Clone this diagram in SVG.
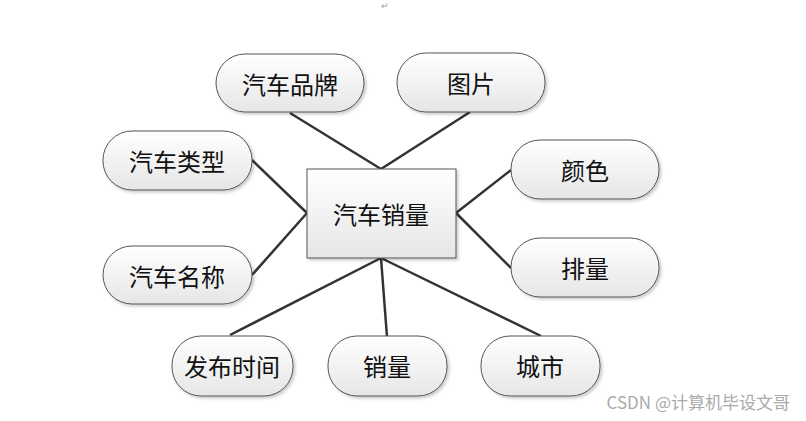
<svg xmlns="http://www.w3.org/2000/svg" width="806" height="421" viewBox="0 0 806 421">
<defs>
<linearGradient id="g" x1="0" y1="0" x2="0" y2="1"><stop offset="0" stop-color="#ffffff"/><stop offset="1" stop-color="#e6e6e6"/></linearGradient>
<filter id="s" x="-10%" y="-10%" width="130%" height="130%"><feDropShadow dx="2" dy="2" stdDeviation="1.5" flood-color="#000" flood-opacity="0.2"/></filter>
</defs>
<style>
.n{fill:url(#g);stroke:#555;stroke-width:1;filter:url(#s)}
.t{font-family:"Noto Sans CJK SC",sans-serif;font-size:24px;fill:#111;text-anchor:middle;dominant-baseline:central}
.c line{stroke:#333;stroke-width:2.5}
</style>
<rect width="806" height="421" fill="#fff"/>
<text x="385" y="9" font-family="Liberation Sans,sans-serif" font-size="9" fill="#999" text-anchor="middle">↵</text>
<g class="c">
<line x1="290" y1="113" x2="381" y2="169"/>
<line x1="470" y1="112" x2="381" y2="169"/>
<line x1="252" y1="160" x2="307" y2="213"/>
<line x1="252" y1="275" x2="307" y2="213"/>
<line x1="456" y1="213" x2="511" y2="170"/>
<line x1="456" y1="213" x2="511" y2="268"/>
<line x1="381" y1="258" x2="230" y2="335"/>
<line x1="381" y1="258" x2="387" y2="337"/>
<line x1="381" y1="258" x2="541" y2="336"/>
</g>
<g id="center"><rect class="n" x="307" y="169" width="149" height="89"/><text class="t" x="381" y="213">汽车销量</text></g>
<g id="n1"><rect class="n" x="216" y="54" width="148" height="58" rx="29"/><text class="t" x="290" y="83">汽车品牌</text></g>
<g id="n2"><rect class="n" x="397" y="53" width="148" height="59" rx="29"/><text class="t" x="471" y="82">图片</text></g>
<g id="n3"><rect class="n" x="103" y="131" width="149" height="59" rx="29"/><text class="t" x="177" y="160">汽车类型</text></g>
<g id="n4"><rect class="n" x="511" y="140" width="148" height="59" rx="29"/><text class="t" x="585" y="169">颜色</text></g>
<g id="n5"><rect class="n" x="103" y="246" width="149" height="58" rx="29"/><text class="t" x="177" y="275">汽车名称</text></g>
<g id="n6"><rect class="n" x="511" y="238" width="148" height="59" rx="29"/><text class="t" x="585" y="267">排量</text></g>
<g id="n7"><rect class="n" x="172" y="336" width="121" height="60" rx="29"/><text class="t" x="232" y="365">发布时间</text></g>
<g id="n8"><rect class="n" x="328" y="336" width="119" height="60" rx="29"/><text class="t" x="387" y="365">销量</text></g>
<g id="n9"><rect class="n" x="481" y="336" width="119" height="60" rx="29"/><text class="t" x="540" y="365">城市</text></g>
<text x="790" y="409" font-family="Noto Sans CJK SC,sans-serif" font-size="17" fill="#aaa" text-anchor="end">CSDN @计算机毕设文哥</text>
</svg>
